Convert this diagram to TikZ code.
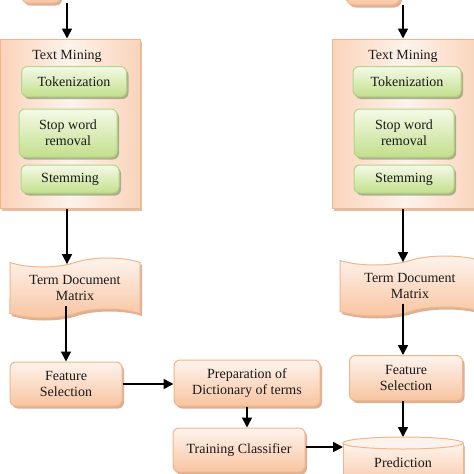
\documentclass[tikz,border=0pt]{standalone}
\usepackage{fontspec}
\setmainfont{Liberation Serif}
\usetikzlibrary{shapes.symbols,shadows,arrows.meta}
\definecolor{peachL}{HTML}{FEF4EE}
\definecolor{peachD}{HTML}{F8C4A0}
\definecolor{peachM}{HTML}{FEF3EC}
\definecolor{peachE}{HTML}{FAD3BA}
\definecolor{peachB}{HTML}{F4B48A}
\definecolor{peachS}{HTML}{C27E50}
\definecolor{greenL}{HTML}{F4FAE8}
\definecolor{greenD}{HTML}{C3DF8C}
\definecolor{greenB}{HTML}{B3D586}
\definecolor{greenS}{HTML}{7A8F5C}
\definecolor{ink}{HTML}{1A1A1A}
\tikzset{
  lbl/.style={font=\fontsize{14}{16}\selectfont, text=ink, align=center},
  peachbox/.style={lbl, draw=peachB, line width=1pt, rounded corners=6pt,
    top color=peachL, bottom color=peachD,
    drop shadow={shadow xshift=2pt, shadow yshift=-2.5pt, fill=peachS, opacity=0.6}},
  greenbox/.style={lbl, draw=greenB, line width=1pt, rounded corners=6pt,
    top color=greenL, bottom color=greenD,
    drop shadow={shadow xshift=2pt, shadow yshift=-2.5pt, fill=greenS, opacity=0.6}},
  minebox/.style={draw=peachB, line width=1pt, left color=peachE, right color=peachE, middle color=peachM,
    drop shadow={shadow xshift=2pt, shadow yshift=-2.5pt, fill=peachS, opacity=0.5}},
  tapebox/.style={lbl, tape, draw=peachB, line width=1pt, tape bend height=9pt,
    top color=peachL, bottom color=peachD,
    drop shadow={shadow xshift=2pt, shadow yshift=-2.5pt, fill=peachS, opacity=0.6}},
  flow/.style={-{Triangle[width=10pt,length=10pt]}, line width=1.6pt, draw=black},
}
\begin{document}
\begin{tikzpicture}[x=1pt,y=-1pt]
\useasboundingbox (0,0) rectangle (474,474);
\clip (0,0) rectangle (474,474);
\fill[white] (0,0) rectangle (474,474);

% partial shapes at top
\path[peachbox] (22,-20) rectangle (60,3);
\path[peachbox, rounded corners=8pt] (346,-20) rectangle (400,5);
\coordinate (topL) at (67,3);
\coordinate (topR) at (403,5);

% left column
\node[minebox, minimum width=140, minimum height=169] (tm1) at (70,123.5) {};
\node[lbl] (tml1) at (67,56) {Text Mining};
\node[greenbox, minimum width=105, minimum height=30] (tok1) at (74,81.5) {Tokenization};
\node[greenbox, minimum width=98, minimum height=48] (sw1) at (68,133) {Stop word\\removal};
\node[greenbox, minimum width=98, minimum height=28] (st1) at (70,179) {Stemming};
\node[tapebox, minimum width=130, minimum height=60] (tdm1) at (75,288) {Term Document\\Matrix};
\node[peachbox, minimum width=112, minimum height=44] (fs1) at (66,384) {Feature\\Selection};
\node[peachbox, minimum width=146, minimum height=46] (prep) at (247,383) {Preparation of\\Dictionary of terms};
\node[peachbox, minimum width=132, minimum height=44] (train) at (239,450) {Training Classifier};

% right column
\node[minebox, minimum width=148, minimum height=169] (tm2) at (406,123.5) {};
\node[lbl] (tml2) at (403,56) {Text Mining};
\node[greenbox, minimum width=108, minimum height=30] (tok2) at (407,81.5) {Tokenization};
\node[greenbox, minimum width=100, minimum height=48] (sw2) at (404,133) {Stop word\\removal};
\node[greenbox, minimum width=100, minimum height=28] (st2) at (404,179) {Stemming};
\node[tapebox, minimum width=140, minimum height=60] (tdm2) at (410,286) {Term Document\\Matrix};
\node[peachbox, minimum width=113, minimum height=45] (fs2) at (406,378) {Feature\\Selection};

% prediction cylinder
\fill[peachS, opacity=0.5] (345,446) rectangle (465,490);
\shade[top color=peachL, bottom color=peachD] (343,443) rectangle (463,490);
\draw[peachB, line width=1pt] (343,443) -- (343,490) (463,443) -- (463,490);
\draw[peachB, line width=1pt, fill=peachM] (403,443) ellipse [x radius=60, y radius=6];
\node[lbl] (pred) at (403,463) {Prediction};
\coordinate (predN) at (403,437);
\coordinate (predW) at (343,447);

% connectors
\draw[flow] (topL) -- (tm1.north -| topL);
\draw[flow] (tm1.south -| topL) -- ([yshift=-2pt]tdm1.north -| topL);
\draw[flow] ([yshift=8pt]tdm1.south -| fs1.north) -- (fs1.north);
\draw[flow] (fs1.east) -- (fs1.east -| prep.west);
\draw[flow] (prep.south) -- (prep.south |- train.north);
\draw[flow] (train.east |- predW) -- (predW);
\draw[flow] (topR) -- (tm2.north -| topR);
\draw[flow] (tm2.south -| topR) -- ([yshift=-2pt]tdm2.north -| topR);
\draw[flow] ([yshift=8pt]tdm2.south -| topR) -- (fs2.north -| topR);
\draw[flow] (fs2.south -| predN) -- (predN);
\end{tikzpicture}
\end{document}
